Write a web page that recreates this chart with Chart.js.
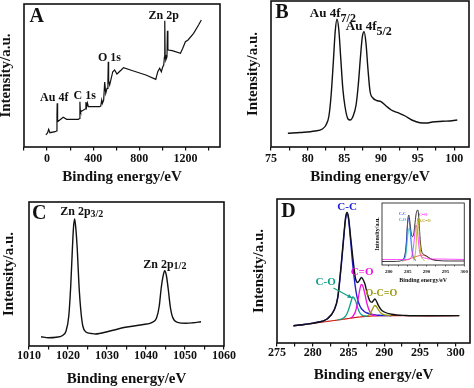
<!DOCTYPE html>
<html>
<head>
<meta charset="utf-8">
<script src="https://cdn.jsdelivr.net/npm/chart.js@4.4.1/dist/chart.umd.min.js"></script>
<style>
  html, body { margin: 0; padding: 0; background: #fff; }
  body { width: 474px; height: 388px; position: relative; overflow: hidden; }
  .panel { position: absolute; }
  .panel canvas { display: block; }
</style>
</head>
<body>
<div class="panel" style="left:0;top:0"><canvas id="chartA" width="237" height="194"></canvas></div>
<div class="panel" style="left:237px;top:0"><canvas id="chartB" width="237" height="194"></canvas></div>
<div class="panel" style="left:0;top:194px"><canvas id="chartC" width="237" height="194"></canvas></div>
<div class="panel" style="left:237px;top:194px"><canvas id="chartD" width="237" height="194"></canvas></div>
<div class="panel" style="left:370px;top:200px"><canvas id="chartInset" width="100" height="88"></canvas></div>
<script>
  // ---- A: survey spectrum ----
  const surveyEnergy = [-10, 5, 14, 25, 70, 82, 86, 88, 90, 93, 140, 170, 272, 282, 285, 288, 292, 330, 337, 343, 350, 358,
    455, 466, 474, 480, 491, 500, 509, 520, 528, 531, 534, 543, 570, 586, 606, 643, 663, 743, 857, 943, 960, 977, 991,
    1003, 1012, 1018, 1021, 1024, 1030, 1040, 1044, 1048, 1052, 1086, 1157, 1177, 1200, 1223, 1271, 1314, 1338];
  const surveyIntensity = [12, 14.3, 17.7, 14.3, 15.3, 16, 32, 43.7, 30, 25.3, 29.7, 27.7, 27.7, 28.5, 45.3, 37, 35.3, 38, 45, 40, 44, 40.3,
    40.3, 41, 47, 43.7, 47, 65, 53.7, 58.7, 66, 85.3, 66, 62, 75.3, 77, 73, 77, 79.3, 76.3, 72, 67.7, 75.3, 78.7, 75.3,
    80, 82, 90, 126.3, 92, 87, 90, 116.3, 98, 97, 96.3, 93.7, 98.7, 105.3, 107, 113.7, 122, 127];
  const surveyTickLabels = [0, 400, 800, 1200];

  // ---- B: Au 4f ----
  const auEnergy = [77.3, 79, 81, 82, 82.5, 82.9, 83.2, 83.5, 83.75, 84.0, 84.25, 84.5, 84.8, 85.1, 85.5, 85.8, 86.2, 86.6, 86.9,
    87.2, 87.45, 87.7, 87.95, 88.2, 88.5, 88.9, 89.4, 90.0, 90.7, 91.4, 92.3, 93.3, 94.2, 95.3, 96.2, 97.0, 98.4, 99.7, 100.4];
  const auIntensity = [13.7, 14.5, 16, 18, 22, 31, 52, 85, 115, 127.7, 117, 90, 58, 40, 28, 27, 31, 42, 62,
    90, 110, 115.3, 104, 80, 56, 49, 46.5, 45.3, 41, 37, 34.3, 31, 27, 24.3, 24, 25, 25.7, 26.3, 27];
  const auTickLabels = [75, 80, 85, 90, 95, 100];

  // ---- C: Zn 2p ----
  const znEnergy = [1013.1, 1015, 1017, 1018.5, 1019.5, 1020.2, 1020.7, 1021.1, 1021.4, 1021.7, 1022.0, 1022.4, 1022.8, 1023.3,
    1023.8, 1024.6, 1026, 1027, 1030.5, 1034.7, 1039, 1041.6, 1042.7, 1043.4, 1043.9, 1044.4, 1044.8, 1045.2, 1045.7,
    1046.2, 1046.8, 1048.1, 1050.2, 1052, 1054.1];
  const znIntensity = [9.3, 8.3, 8.8, 10.3, 15, 30, 60, 95, 118, 127, 118, 95, 62, 35,
    20, 14, 12.5, 12, 14.7, 18.7, 21.3, 23.7, 28, 40, 58, 70.3, 75.3, 71, 57,
    40, 29, 23.7, 22.7, 23.2, 24.3];
  const znTickLabels = [1010, 1020, 1030, 1040, 1050, 1060];

  // ---- D: C 1s with fitted components ----
  const c1sEnergy = [277.3, 279, 280.5, 282, 283, 283.5, 284, 284.3, 284.6, 284.8, 285.0, 285.3, 285.6, 286.0, 286.3, 286.6,
    286.8, 287.0, 287.3, 287.6, 288.0, 288.3, 288.5, 288.7, 288.9, 289.2, 289.6, 290.0, 291, 293, 296, 300.5];
  const c1sEnvelope = [17.3, 18.8, 20.5, 24, 33, 46, 80, 104, 126, 130.5, 126, 106, 86, 64, 60.5, 63.5,
    65.5, 64, 59, 50, 42, 40.8, 42.5, 44, 42, 37.3, 33, 31, 28.7, 27.5, 27.2, 27.4];
  const c1sBackground = [17, 18.5, 20, 21.5, 22.5, 23, 23.5, 23.8, 24.1, 24.3, 24.5, 24.8, 25.1, 25.5, 25.8, 26.0,
    26.2, 26.3, 26.5, 26.7, 26.9, 27.0, 27.1, 27.1, 27.2, 27.2, 27.3, 27.3, 27.3, 27.3, 27.2, 27.3];
  const c1sCC = [17.3, 18.8, 20.5, 24, 33, 45, 78, 102, 124, 129, 124, 102, 78, 54, 43, 37,
    34.5, 33, 31, 30, 29, 28.5, 28.2, 28, 27.9, 27.7, 27.5, 27.4, 27.3, null, null, null];
  const c1sCO = [null, null, null, null, null, 23.2, 24, 25, 27, 29.5, 33, 40, 46, 42, 35, 30,
    28.5, 27.5, 27, 26.8, null, null, null, null, null, null, null, null, null, null, null, null];
  const c1sCdO = [null, null, null, null, null, null, null, null, null, null, null, 25, 26.5, 32, 42, 54,
    58.5, 57, 49, 39, 31, 28.5, 27.8, 27.4, 27.3, null, null, null, null, null, null, null];
  const c1sOCdO = [null, null, null, null, null, null, null, null, null, null, null, null, null, null, null, null,
    null, null, null, 27, 29, 33, 36, 37.5, 36.5, 33, 29.5, 28.2, 27.5, null, null, null];
  const c1sTickLabels = [275, 280, 285, 290, 295, 300];

  // ---- D inset ----
  const insetEnergy = [278.2, 282, 283.5, 284.2, 284.6, 284.9, 285.1, 285.3, 285.5, 285.8, 286.1, 286.3, 286.6, 286.9, 287.2,
    287.5, 287.7, 287.9, 288.1, 288.4, 288.7, 289.1, 289.5, 290.0, 290.6, 291.5, 293, 296, 300];
  const insetEnvelope = [3.5, 3.6, 5, 9, 20, 38, 47, 50, 46, 36, 29, 28.3, 31, 40, 50,
    54.5, 55, 50, 38, 22, 14, 11, 10, 9, 7.5, 5.5, 4.5, 4, 4];
  const insetCC = [null, null, 4.5, 8, 18, 36, 46, 47, 42, 28, 15, 10, 6.5, 5, 4.5,
    null, null, null, null, null, null, null, null, null, null, null, null, null, null];
  const insetCO = [null, null, 4.5, 6, 12, 24, 32, 36, 37, 30, 19, 13, 8, 6, 5,
    null, null, null, null, null, null, null, null, null, null, null, null, null, null];
  const insetCdO = [5.5, 5.5, 5.5, 5.5, 5.5, 5.6, 5.7, 5.8, 6, 7, 9, 12, 20, 31, 40,
    37, 30, 22, 15, 10, 8, 7.5, 7, 6.5, 6, 6, 6, 5.8, 5.5];
  const insetOCdO = [null, null, null, null, null, null, null, null, null, null, null, null, 4.5, 8, 18,
    38, 47, 42, 30, 15, 8, 5.5, 4.5, null, null, null, null, null, null];
  const insetBackground = [null, null, 4, 4.5, 5, 5.3, 5.5, 5.7, 6, 6.5, 7, 7.3, 7.7, 8, 8.4,
    8.8, 9, 9.2, 9.4, 9.6, 9.8, 9.8, 9.5, 8.5, 7, 5.5, 4.5, null, null];
  const insetTickLabels = [280, 285, 290, 295, 300];

  const FONT = '"Liberation Serif", "DejaVu Serif", serif';

  function xy(xs, ys) {
    return xs.map((x, i) => ({ x, y: ys[i] }));
  }

  const boxPlugin = {
    id: 'box',
    afterDatasetsDraw(chart) {
      const { ctx, chartArea: a } = chart;
      const lw = chart.options.boxWidth || 1.6;
      ctx.save();
      ctx.strokeStyle = '#111';
      ctx.lineWidth = lw;
      ctx.strokeRect(a.left, a.top, a.right - a.left, a.bottom - a.top);
      ctx.restore();
    }
  };

  // text and arrows placed in data units
  function notesPlugin(items) {
    return {
      id: 'notes',
      afterDraw(chart) {
        const { ctx, scales: { x, y } } = chart;
        items.forEach(n => {
          ctx.save();
          ctx.fillStyle = n.color || '#111';
          ctx.strokeStyle = n.color || '#111';
          if (n.arrow) {
            const x1 = x.getPixelForValue(n.arrow[0]), y1 = y.getPixelForValue(n.arrow[1]);
            const x2 = x.getPixelForValue(n.arrow[2]), y2 = y.getPixelForValue(n.arrow[3]);
            const ang = Math.atan2(y2 - y1, x2 - x1);
            ctx.lineWidth = 1.2;
            ctx.beginPath(); ctx.moveTo(x1, y1); ctx.lineTo(x2, y2); ctx.stroke();
            ctx.beginPath();
            ctx.moveTo(x2, y2);
            ctx.lineTo(x2 - 5 * Math.cos(ang - 0.45), y2 - 5 * Math.sin(ang - 0.45));
            ctx.lineTo(x2 - 5 * Math.cos(ang + 0.45), y2 - 5 * Math.sin(ang + 0.45));
            ctx.closePath(); ctx.fill();
            ctx.restore();
            return;
          }
          const px = x.getPixelForValue(n.x), py = y.getPixelForValue(n.y);
          const main = `bold ${n.size}px ${FONT}`;
          const sub = `bold ${n.subSize || n.size * 0.75}px ${FONT}`;
          ctx.textBaseline = 'middle';
          ctx.textAlign = 'left';
          ctx.font = main;
          const w = ctx.measureText(n.text).width;
          let sw = 0;
          if (n.sub) { ctx.font = sub; sw = ctx.measureText(n.sub).width; }
          const start = n.align === 'left' ? px : px - (w + sw) / 2;
          ctx.font = main;
          ctx.fillText(n.text, start, py);
          if (n.sub) {
            ctx.font = sub;
            ctx.fillText(n.sub, start + w, py + (n.subDrop || 4));
          }
          ctx.restore();
        });
      }
    };
  }

  function line(data, color, width, smooth) {
    return {
      data, borderColor: color, borderWidth: width, pointRadius: 0, fill: false,
      cubicInterpolationMode: smooth ? 'monotone' : 'default', tension: 0, spanGaps: false
    };
  }

  function panel(id, cfg) {
    const near = (v, arr) => arr.some(l => Math.abs(l - v) < 1e-6);
    return new Chart(document.getElementById(id), {
      type: 'line',
      data: { datasets: cfg.datasets },
      options: {
        responsive: false,
        animation: false,
        devicePixelRatio: 1,
        boxWidth: cfg.boxWidth,
        layout: { padding: { top: cfg.top, right: cfg.right, left: 0, bottom: 0 } },
        plugins: { legend: { display: false }, tooltip: { enabled: false } },
        scales: {
          x: {
            type: 'linear', min: cfg.xMin, max: cfg.xMax,
            afterFit: s => { s.height = cfg.axisH; },
            ticks: {
              stepSize: cfg.step, autoSkip: false, includeBounds: false, maxRotation: 0,
              padding: cfg.tickPad, color: '#111',
              font: { family: FONT, size: cfg.tickSize, weight: 'bold' },
              callback: v => near(v, cfg.labels) ? String(v) : ''
            },
            grid: { drawOnChartArea: false, drawTicks: true, tickLength: cfg.tickLen, color: '#111', lineWidth: cfg.tickWidth },
            border: { display: false },
            title: {
              display: true, text: 'Binding energy/eV', color: '#111',
              font: { family: FONT, size: cfg.titleSize, weight: 'bold', lineHeight: 1 },
              padding: { top: 0, bottom: cfg.xTitlePad }
            }
          },
          y: {
            type: 'linear', min: 0, max: cfg.yMax,
            afterFit: s => { s.width = cfg.axisW; },
            ticks: { display: false },
            grid: { display: false },
            border: { display: false },
            title: {
              display: true, text: 'Intensity/a.u.', color: '#111',
              font: { family: FONT, size: cfg.yTitleSize || cfg.titleSize, weight: 'bold', lineHeight: 1 },
              padding: { top: cfg.yTitlePad, bottom: 0 }
            }
          }
        }
      },
      plugins: [boxPlugin, notesPlugin(cfg.notes)]
    });
  }

  const BIG = { tickSize: 12, titleSize: 15, tickLen: 3.5, tickWidth: 1.2, boxWidth: 1.6 };

  panel('chartA', Object.assign({}, BIG, {
    xMin: -200, xMax: 1500, step: 200, labels: surveyTickLabels, yMax: 143,
    top: 4, right: 17, axisW: 24, axisH: 47, tickPad: 1.3, xTitlePad: 9.8, yTitlePad: -1.5,
    datasets: [line(xy(surveyEnergy, surveyIntensity), '#111', 1.2, false)],
    notes: [
      { x: -90, y: 130.3, text: 'A', size: 20 },
      { x: 62, y: 48.7, text: 'Au 4f', size: 12 },
      { x: 327, y: 50.7, text: 'C 1s', size: 12 },
      { x: 541, y: 89.2, text: 'O 1s', size: 12 },
      { x: 1012, y: 131.2, text: 'Zn 2p', size: 12 }
    ]
  }));

  panel('chartB', Object.assign({}, BIG, {
    xMin: 75, xMax: 102, step: 2.5, labels: auTickLabels, yMax: 146,
    top: 1, right: 5, axisW: 34, axisH: 47, tickPad: 1, xTitlePad: 9, yTitlePad: 8.5,
    datasets: [line(xy(auEnergy, auIntensity), '#111', 1.4, true)],
    notes: [
      { x: 76.5, y: 133.7, text: 'B', size: 20 },
      { x: 80.3, y: 133.5, text: 'Au 4f', sub: '7/2', size: 13, subSize: 12, subDrop: 5, align: 'left' },
      { x: 85.2, y: 120.5, text: 'Au 4f', sub: '5/2', size: 13, subSize: 12, subDrop: 5, align: 'left' }
    ]
  }));

  panel('chartC', Object.assign({}, BIG, {
    xMin: 1010, xMax: 1060, step: 5, labels: znTickLabels, yMax: 144,
    top: 8, right: 13, axisW: 29, axisH: 42, tickPad: -0.4, xTitlePad: 1.5, yTitlePad: 1.7,
    datasets: [line(xy(znEnergy, znIntensity), '#111', 1.4, true)],
    notes: [
      { x: 1012.6, y: 132, text: 'C', size: 20 },
      { x: 1018, y: 133.7, text: 'Zn 2p', sub: '3/2', size: 12, subSize: 10, subDrop: 2, align: 'left' },
      { x: 1039.3, y: 81.2, text: 'Zn 2p', sub: '1/2', size: 12, subSize: 10, subDrop: 2, align: 'left' }
    ]
  }));

  panel('chartD', Object.assign({}, BIG, {
    xMin: 275, xMax: 302, step: 2.5, labels: c1sTickLabels, yMax: 144,
    top: 5, right: 4, axisW: 40, axisH: 45, tickPad: -0.7, xTitlePad: 5.5, yTitlePad: 14.2,
    datasets: [
      line(xy(c1sEnergy, c1sOCdO), '#9c9a10', 1.3, true),
      line(xy(c1sEnergy, c1sCdO), '#ee10e0', 1.3, true),
      line(xy(c1sEnergy, c1sCO), '#10a088', 1.3, true),
      line(xy(c1sEnergy, c1sEnvelope), '#111', 1.4, true),
      line(xy(c1sEnergy, c1sCC), '#2020d0', 1.4, true),
      line(xy(c1sEnergy, c1sBackground), '#d02010', 1.2, true)
    ],
    notes: [
      { x: 276.6, y: 131.5, text: 'D', size: 20 },
      { x: 284.8, y: 135.7, text: 'C-C', size: 11, color: '#2020d0' },
      { x: 286.9, y: 70.7, text: 'C=O', size: 11, color: '#ee10e0' },
      { x: 281.8, y: 60.7, text: 'C-O', size: 11, color: '#10a088' },
      { x: 289.6, y: 49.3, text: 'O-C=O', size: 10, color: '#9c9a10' },
      { arrow: [282.9, 55, 285.5, 45], color: '#10a088' }
    ]
  }));

  panel('chartInset', {
    tickSize: 5, titleSize: 6, yTitleSize: 6, tickLen: 1.5, tickWidth: 0.6, boxWidth: 0.8,
    xMin: 278.2, xMax: 300, step: 2.5, labels: insetTickLabels, yMax: 62,
    top: 3, right: 2, axisW: 12, axisH: 23, tickPad: 2, xTitlePad: 5, yTitlePad: 4,
    datasets: [
      line(xy(insetEnergy, insetOCdO), '#b8a800', 0.8, true),
      line(xy(insetEnergy, insetCdO), '#ff20ff', 0.8, true),
      line(xy(insetEnergy, insetCO), '#20b8c8', 0.8, true),
      line(xy(insetEnergy, insetCC), '#3050ff', 0.8, true),
      line(xy(insetEnergy, insetEnvelope), '#222', 0.9, true),
      line(xy(insetEnergy, insetBackground), '#d03020', 0.7, true)
    ],
    notes: [
      { x: 283.6, y: 51, text: 'C-C', size: 4, color: '#3050ff' },
      { x: 283.6, y: 45, text: 'C-O', size: 4, color: '#20a0b0' },
      { x: 289.1, y: 50, text: 'C=O', size: 4, color: '#ff20ff' },
      { x: 289.4, y: 44, text: 'O-C=O', size: 4, color: '#a89800' }
    ]
  });
</script>
</body>
</html>
